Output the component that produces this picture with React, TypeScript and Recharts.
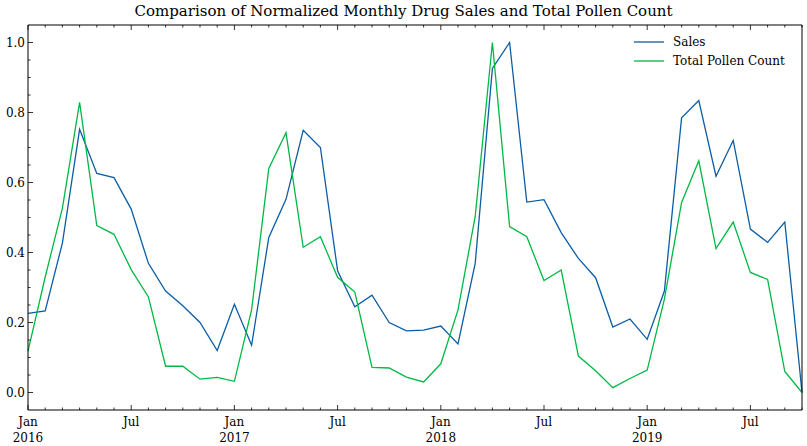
import React from 'react';
import { LineChart, Line, XAxis, YAxis } from 'recharts';

const monthNames = ['Jan', 'Feb', 'Mar', 'Apr', 'May', 'Jun', 'Jul', 'Aug', 'Sep', 'Oct', 'Nov', 'Dec'];
const years = [2016, 2017, 2018, 2019];
const monthCount = 46;

const sales = [
  0.226, 0.233, 0.427, 0.752, 0.626, 0.614, 0.524, 0.369, 0.290, 0.248, 0.200, 0.120,
  0.252, 0.135, 0.443, 0.552, 0.749, 0.700, 0.348, 0.245, 0.278, 0.200, 0.176, 0.178,
  0.190, 0.139, 0.369, 0.926, 1.000, 0.544, 0.551, 0.457, 0.383, 0.328, 0.187, 0.210,
  0.152, 0.290, 0.785, 0.834, 0.618, 0.720, 0.467, 0.429, 0.487, 0.000,
];

const pollen = [
  0.118, 0.330, 0.527, 0.829, 0.477, 0.452, 0.351, 0.273, 0.075, 0.075, 0.038, 0.043,
  0.032, 0.236, 0.640, 0.742, 0.415, 0.445, 0.329, 0.287, 0.072, 0.070, 0.044, 0.030,
  0.082, 0.236, 0.503, 1.000, 0.474, 0.445, 0.320, 0.350, 0.104, 0.062, 0.014, 0.040,
  0.064, 0.267, 0.543, 0.662, 0.411, 0.487, 0.343, 0.323, 0.060, 0.000,
];

const seriesNames = ['Sales', 'Total Pollen Count'];

const yMajorTicks = [0, 0.2, 0.4, 0.6, 0.8, 1.0];
const yAllTicks = [
  0, 0.05, 0.1, 0.15, 0.2, 0.25, 0.3, 0.35, 0.4, 0.45, 0.5, 0.55, 0.6, 0.65, 0.7, 0.75, 0.8, 0.85, 0.9, 0.95, 1.0,
];

const SALES_COLOR = '#0C5DA5';
const POLLEN_COLOR = '#00B945';
const FONT = '"DejaVu Serif", serif';

const data = sales.map((s, i) => ({ idx: i, sales: s, pollen: pollen[i] }));
const xTicks = data.map((d) => d.idx);

const isMajorY = (v: number) => yMajorTicks.some((m) => Math.abs(m - v) < 1e-6);

const BottomTick = (props: any) => {
  const { x, y, payload } = props;
  const i = payload.value as number;
  const major = i % 6 === 0;
  const month = monthNames[i % 12];
  const year = years[Math.floor(i / 12)];
  return (
    <g>
      <line x1={x} x2={x} y1={y} y2={y - (major ? 5 : 2.5)} stroke="#000" strokeWidth={0.8} />
      {major && (
        <text x={x} y={y + 16} textAnchor="middle" fontFamily={FONT} fontSize={12} fill="#000">
          {month}
        </text>
      )}
      {major && i % 12 === 0 && (
        <text x={x} y={y + 32} textAnchor="middle" fontFamily={FONT} fontSize={12} fill="#000">
          {year}
        </text>
      )}
    </g>
  );
};

const TopTick = (props: any) => {
  const { x, y, payload } = props;
  const i = payload.value as number;
  const major = i % 6 === 0;
  return <line x1={x} x2={x} y1={y} y2={y + (major ? 5 : 2.5)} stroke="#000" strokeWidth={0.8} />;
};

const LeftTick = (props: any) => {
  const { x, y, payload } = props;
  const v = payload.value as number;
  const major = isMajorY(v);
  return (
    <g>
      <line x1={x} x2={x + (major ? 5 : 2.5)} y1={y} y2={y} stroke="#000" strokeWidth={0.8} />
      {major && (
        <text x={x - 3} y={y + 4} textAnchor="end" fontFamily={FONT} fontSize={12} fill="#000">
          {v.toFixed(1)}
        </text>
      )}
    </g>
  );
};

const RightTick = (props: any) => {
  const { x, y, payload } = props;
  const v = payload.value as number;
  const major = isMajorY(v);
  return <line x1={x} x2={x - (major ? 5 : 2.5)} y1={y} y2={y} stroke="#000" strokeWidth={0.8} />;
};

const legendItems = [
  { name: seriesNames[0], color: SALES_COLOR },
  { name: seriesNames[1], color: POLLEN_COLOR },
];

export default function App() {
  return (
    <div style={{ position: 'absolute', left: 0, top: 0, width: 807, height: 446, background: '#fff' }}>
      <div
        style={{
          position: 'absolute',
          left: 0,
          top: 2,
          width: 807,
          textAlign: 'center',
          fontFamily: FONT,
          fontSize: 15,
          color: '#000',
        }}
      >
        Comparison of Normalized Monthly Drug Sales and Total Pollen Count
      </div>
      <LineChart
        width={807}
        height={446}
        data={data}
        margin={{ top: 24, right: 4, bottom: 0, left: 0 }}
      >
        <XAxis
          xAxisId="bottom"
          dataKey="idx"
          type="number"
          domain={[0, monthCount - 1]}
          ticks={xTicks}
          interval={0}
          height={36}
          tickSize={0}
          tickMargin={0}
          tickLine={false}
          axisLine={{ stroke: '#000', strokeWidth: 1 }}
          tick={<BottomTick />}
        />
        <XAxis
          xAxisId="top"
          orientation="top"
          dataKey="idx"
          type="number"
          domain={[0, monthCount - 1]}
          ticks={xTicks}
          interval={0}
          height={1}
          tickSize={0}
          tickMargin={0}
          tickLine={false}
          axisLine={{ stroke: '#000', strokeWidth: 1 }}
          tick={<TopTick />}
        />
        <YAxis
          yAxisId="left"
          type="number"
          domain={[-0.05, 1.05]}
          ticks={yAllTicks}
          interval={0}
          width={28}
          tickSize={0}
          tickMargin={0}
          tickLine={false}
          axisLine={{ stroke: '#000', strokeWidth: 1 }}
          tick={<LeftTick />}
        />
        <YAxis
          yAxisId="right"
          orientation="right"
          type="number"
          domain={[-0.05, 1.05]}
          ticks={yAllTicks}
          interval={0}
          width={1}
          tickSize={0}
          tickMargin={0}
          tickLine={false}
          axisLine={{ stroke: '#000', strokeWidth: 1 }}
          tick={<RightTick />}
        />
        <Line
          xAxisId="bottom"
          yAxisId="left"
          type="linear"
          dataKey="sales"
          name={seriesNames[0]}
          stroke={SALES_COLOR}
          strokeWidth={1.3}
          dot={false}
          isAnimationActive={false}
        />
        <Line
          xAxisId="bottom"
          yAxisId="left"
          type="linear"
          dataKey="pollen"
          name={seriesNames[1]}
          stroke={POLLEN_COLOR}
          strokeWidth={1.3}
          dot={false}
          isAnimationActive={false}
        />
      </LineChart>
      <div
        style={{
          position: 'absolute',
          left: 634,
          top: 32,
          fontFamily: FONT,
          fontSize: 12,
          color: '#000',
        }}
      >
        {legendItems.map((it) => (
          <div key={it.name} style={{ display: 'flex', alignItems: 'center', height: 19 }}>
            <svg width={30} height={4} style={{ marginRight: 9 }}>
              <line x1={0} x2={30} y1={2} y2={2} stroke={it.color} strokeWidth={1.3} />
            </svg>
            <span>{it.name}</span>
          </div>
        ))}
      </div>
    </div>
  );
}
